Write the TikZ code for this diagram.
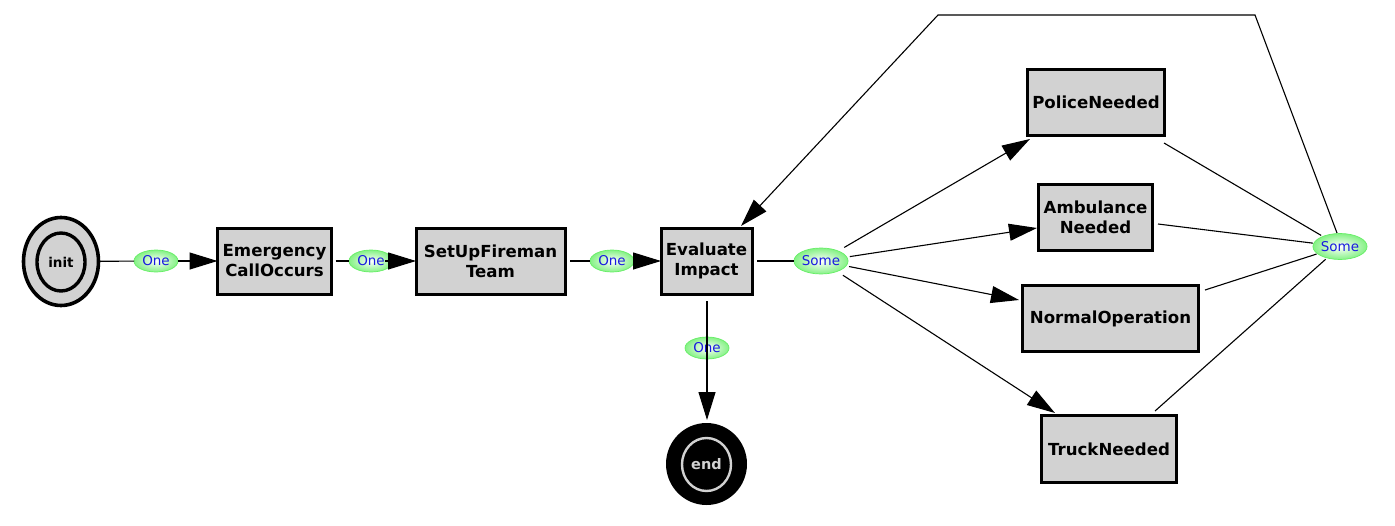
\documentclass[tikz,border=0pt]{standalone}
\usepackage{fontspec}
\setmainfont{DejaVu Sans}
\newfontfamily\labelfont{DejaVu Sans}
\usetikzlibrary{arrows.meta,shapes.geometric}
\definecolor{boxgrey}{HTML}{D2D2D2}
\definecolor{glow}{HTML}{66EE66}
\definecolor{labelblue}{HTML}{1A1AE0}
\tikzset{
  x=1pt,y=-1pt,
  taskbox/.style={draw=black,line width=3pt,fill=boxgrey,inner sep=0pt,outer sep=0pt,align=center,
    font=\fontsize{16.6}{20}\selectfont\bfseries},
  route/.style={ellipse,draw=glow,line width=.7pt,inner color=white,outer color=glow!80!white,inner sep=0pt,outer sep=0pt,
    text=labelblue,font=\labelfont\fontsize{13.5}{15}\selectfont},
  onegate/.style={route,minimum width=44pt,minimum height=22pt},
  somegate/.style={route,minimum width=50pt,minimum height=26pt},
  startstate/.style={ellipse,draw=black,line width=3.6pt,fill=boxgrey,inner sep=0pt,outer sep=0pt},
  startinner/.style={ellipse,draw=black,line width=3.4pt,fill=boxgrey,inner sep=0pt,font=\fontsize{13.5}{15}\selectfont\bfseries},
  endstate/.style={ellipse,draw=black,line width=3pt,fill=black,inner sep=0pt,outer sep=0pt},
  endinner/.style={ellipse,draw=boxgrey,line width=2.4pt,fill=black,inner sep=0pt,text=boxgrey,font=\fontsize{14.5}{16}\selectfont\bfseries},
  link/.style={draw=black,line width=1.1pt},
  flow/.style={link,-{Triangle[length=28pt,width=17pt]}},
}
\begin{document}
\begin{tikzpicture}
\useasboundingbox (0,0) rectangle (1395,525);
% states
\node[startstate,minimum width=75pt,minimum height=88pt] (initouter) at (61,261.5) {};
\node[startinner,minimum width=48pt,minimum height=58pt] (init) at (61,262) {init};
\node[endstate,minimum width=78pt,minimum height=79pt] (endouter) at (706.5,464) {};
\node[endinner,minimum width=49pt,minimum height=53pt] (end) at (706.5,464.5) {end};
% tasks
\node[taskbox,minimum width=114pt,minimum height=66pt] (call) at (274.5,261) {Emergency\\CallOccurs};
\node[taskbox,minimum width=149pt,minimum height=66pt] (team) at (490.5,261) {SetUpFireman\\Team};
\node[taskbox,minimum width=91pt,minimum height=66pt] (eval) at (706.5,261) {Evaluate\\Impact};
\node[taskbox,minimum width=137pt,minimum height=66pt] (police) at (1096,102.5) {PoliceNeeded};
\node[taskbox,minimum width=114pt,minimum height=66pt] (amb) at (1095.5,217.5) {Ambulance\\Needed};
\node[taskbox,minimum width=176pt,minimum height=66pt] (normal) at (1110.5,318.5) {NormalOperation};
\node[taskbox,minimum width=135pt,minimum height=67pt] (truck) at (1109,449) {TruckNeeded};
% gates
\node[onegate] (g1) at (156,261) {One};
\node[onegate] (g2) at (371,261) {One};
\node[onegate] (g3) at (612,261) {One};
\node[onegate] (g4) at (707,348) {One};
\node[somegate] (s1) at (821,261) {Some};
\node[somegate] (s2) at (1340,246.5) {Some};
% named bend and end points
\coordinate (loopa) at (1255,15);
\coordinate (loopb) at (938,15);
\coordinate (policein) at (1030,139);
\coordinate (ambin) at (1037,228);
\coordinate (normalin) at (1019,300);
\coordinate (truckin) at (1055,413);
\coordinate (evalin) at (741,226);
\coordinate (policeout) at (1164,143);
\coordinate (ambout) at (1158,224);
\coordinate (normalout) at (1205,290);
\coordinate (truckout) at (1155,411);
\coordinate (s2top) at (1337,233);
\coordinate (evalout) at (757,261);
\coordinate (g4top) at (707,301);
\coordinate (endtop) at (707,420);
\coordinate (g2tail) at (385,261);
% connectors
\draw[link] (initouter) -- (g1);
\draw[flow] (g1) -- (call);
\draw[link,shorten <=4pt] (call) -- (g2);
\draw[flow] (g2tail) -- (team);
\draw[link,shorten <=5pt] (team) -- (g3);
\draw[flow] (g3) -- (eval);
\draw[link] (evalout) -- (s1);
\draw[link] (g4top) -- (g4.center);
\draw[flow] (g4.center) -- (endtop);
\draw[flow,shorten <=7pt] (s1) -- (policein);
\draw[flow,shorten <=3pt] (s1) -- (ambin);
\draw[flow,shorten <=3pt] (s1) -- (normalin);
\draw[flow,shorten <=7pt] (s1) -- (truckin);
\draw[link,shorten >=2pt] (policeout) -- (s2);
\draw[link,shorten >=1pt] (ambout) -- (s2);
\draw[link,shorten >=1pt] (normalout) -- (s2);
\draw[link,shorten >=2pt] (truckout) -- (s2);
\draw[flow] (s2top) -- (loopa) -- (loopb) -- (evalin);
\end{tikzpicture}
\end{document}
